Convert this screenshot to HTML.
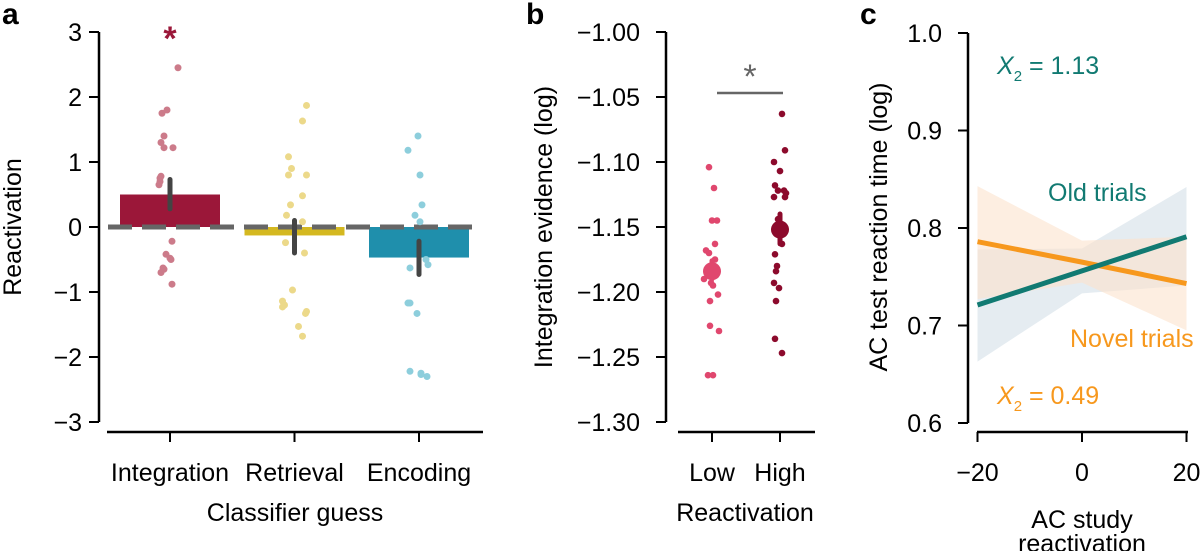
<!DOCTYPE html>
<html><head><meta charset="utf-8"><style>
html,body{margin:0;padding:0;background:#fff}
svg{display:block;font-family:"Liberation Sans",sans-serif}
</style></head><body>
<svg id="fig" width="1200" height="551" viewBox="0 0 1200 551"></svg>
<script>
// ---- Panel a data ----
const catsA=["Integration","Retrieval","Encoding"];
const meansA=[0.5,-0.13,-0.47];
const errLoA=[0.28,-0.4,-0.73];
const errHiA=[0.73,0.1,-0.22];
const ticksA=[3,2,1,0,-1,-2,-3];
const ptsA=[[2.45,1.8,1.75,1.4,1.3,1.22,1.22,0.78,0.75,0.7,0.65,-0.22,-0.42,-0.48,-0.5,-0.63,-0.65,-0.7,-0.88],
[1.87,1.63,1.08,0.9,0.8,0.8,0.48,0.34,0.18,0.08,-0.24,-0.4,-0.97,-1.14,-1.2,-1.23,-1.3,-1.33,-1.53,-1.68],
[1.4,1.18,0.8,0.34,0.18,0.08,-0.5,-0.58,-0.63,-1.17,-1.17,-1.33,-2.22,-2.27,-2.3,-2.25]];
const jitA=[[8,-3,-8,-6,-9,-6,3,-9,-10,-10,-11,2,-4,0,1,-7,-6,-9,2],
[12,8,-6,-3,-6,12,8,-4,-8,8,-9,10,-2,-12,-10,-12,12,11,4,8],
[-1,-11,1,3,-4,1,7,9,-9,-11,-9,-2,-9,2,8,2]];
// ---- Panel b data ----
const catsB=["Low","High"];
const meansB=[-1.184,-1.152];
const errLoB=[-1.19,-1.163];
const errHiB=[-1.176,-1.14];
const ticksB=[-1.00,-1.05,-1.10,-1.15,-1.20,-1.25,-1.30];
const ptsB=[[-1.104,-1.12,-1.145,-1.145,-1.163,-1.168,-1.17,-1.175,-1.19,-1.193,-1.195,-1.202,-1.207,-1.226,-1.23,-1.264,-1.264],
[-1.063,-1.091,-1.1,-1.107,-1.118,-1.122,-1.122,-1.124,-1.127,-1.127,-1.144,-1.163,-1.171,-1.18,-1.184,-1.193,-1.197,-1.207,-1.236,-1.247]];
const jitB=[[-3,2,0,5,3,-6,-3,3,-8,-1,1,6,-2,-2,7,-4,1],
[2,5,-6,0,-5,-2,4,6,-6,5,-2,2,-5,-3,-4,-6,-1,-4,-5,2]];
// ---- Panel c data ----
const xC=[-20,0,20];
const oldLine=[0.721,0.756,0.791];
const oldLo=[0.663,0.733,0.741];
const oldHi=[0.778,0.779,0.842];
const novLine=[0.786,0.765,0.743];
const novLo=[0.727,0.744,0.695];
const novHi=[0.843,0.787,0.791];
const ticksCy=[1.0,0.9,0.8,0.7,0.6];
const ticksCx=[-20,0,20];

const NS="http://www.w3.org/2000/svg";
const svg=document.getElementById('fig');
const FS=25;
function mk(tag,attrs,parent,text){const e=document.createElementNS(NS,tag);for(const k in attrs)e.setAttribute(k,attrs[k]);if(text!==undefined)e.textContent=text;(parent||svg).appendChild(e);return e;}
function grp(name){const g=mk('g',{});return g;}

// Panel a
const yA=v=>227-65*v;
const xA=i=>170+i*124.5;
const gA=grp('panel-a');
const la=mk('text',{x:2,y:24,'font-size':30,'font-weight':'bold'},gA,'a');

mk('line',{x1:99,y1:yA(3),x2:99,y2:yA(-3),stroke:'#000','stroke-width':2.5},gA);
ticksA.forEach(t=>{mk('line',{x1:89,x2:99,y1:yA(t),y2:yA(t),stroke:'#000','stroke-width':2},gA);
const tl=mk('text',{x:82,y:yA(t)+9,'font-size':FS,'text-anchor':'end'},gA,t<0?'\u2212'+(-t):String(t));
});
const ytA=mk('text',{transform:'translate(21,227) rotate(-90)','font-size':FS,'text-anchor':'middle'},gA,'Reactivation');

mk('line',{x1:107,x2:483,y1:432,y2:432,stroke:'#000','stroke-width':2.5},gA);
const barCol=['#9b1739','#d4b820','#1f8fac'],dotCol=['#cc7b8a','#ecd98a','#8dcedc'];
catsA.forEach((c,i)=>{
 const b=mk('rect',{x:xA(i)-50,width:100,y:Math.min(yA(0),yA(meansA[i])),height:Math.abs(yA(meansA[i])-yA(0)),fill:barCol[i]},gA);
 
 mk('line',{x1:xA(i),x2:xA(i),y1:432,y2:442,stroke:'#000','stroke-width':2},gA);
 const xl=mk('text',{x:xA(i),y:481,'font-size':FS,'text-anchor':'middle'},gA,c);
 
});
const zl=mk('line',{x1:108,x2:482,y1:yA(0),y2:yA(0),stroke:'#666','stroke-width':5,'stroke-dasharray':'24,10'},gA);

catsA.forEach((c,i)=>{
 ptsA[i].forEach((v,j)=>{const d=mk('circle',{cx:xA(i)+jitA[i][j],cy:yA(v),r:3.5,fill:dotCol[i]},gA);
 });
 const e=mk('line',{x1:xA(i),x2:xA(i),y1:yA(errLoA[i]),y2:yA(errHiA[i]),stroke:'#444','stroke-width':5,'stroke-linecap':'round'},gA);
 
});
const st=mk('text',{x:170,y:50,'font-size':34,'font-weight':'bold','text-anchor':'middle',fill:'#9b1739'},gA,'*');

const xtA=mk('text',{x:295,y:521,'font-size':FS,'text-anchor':'middle'},gA,'Classifier guess');


// Panel b
const yB=v=>32+(-1.0-v)*1300;
const xB=i=>712+i*68;
const gB=grp('panel-b');
const lb=mk('text',{x:526,y:24,'font-size':30,'font-weight':'bold'},gB,'b');

mk('line',{x1:666,y1:yB(-1.0),x2:666,y2:yB(-1.3),stroke:'#000','stroke-width':2.5},gB);
ticksB.forEach(t=>{mk('line',{x1:656,x2:666,y1:yB(t),y2:yB(t),stroke:'#000','stroke-width':2},gB);
const tl=mk('text',{x:640,y:yB(t)+9,'font-size':FS,'text-anchor':'end'},gB,'\u2212'+(-t).toFixed(2));
});
const ytB=mk('text',{transform:'translate(552,227) rotate(-90)','font-size':FS,'text-anchor':'middle'},gB,'Integration evidence (log)');

mk('line',{x1:678,x2:815,y1:432,y2:432,stroke:'#000','stroke-width':2.5},gB);
const colB=['#e0476e','#8c0a2c'];
catsB.forEach((c,i)=>{
 mk('line',{x1:xB(i),x2:xB(i),y1:432,y2:442,stroke:'#000','stroke-width':2},gB);
 const xl=mk('text',{x:xB(i),y:481,'font-size':FS,'text-anchor':'middle'},gB,c);
 
 ptsB[i].forEach((v,j)=>{const d=mk('circle',{cx:xB(i)+jitB[i][j],cy:yB(v),r:3.3,fill:colB[i]},gB);
 });
 mk('line',{x1:xB(i),x2:xB(i),y1:yB(errLoB[i]),y2:yB(errHiB[i]),stroke:colB[i],'stroke-width':5,'stroke-linecap':'round'},gB);
 const m=mk('circle',{cx:xB(i),cy:yB(meansB[i]),r:9,fill:colB[i]},gB);
 
});
mk('line',{x1:717,x2:783,y1:93,y2:93,stroke:'#666','stroke-width':2.5},gB);
const sb=mk('text',{x:750,y:88,'font-size':34,'text-anchor':'middle',fill:'#666'},gB,'*');

const xtB=mk('text',{x:745,y:521,'font-size':FS,'text-anchor':'middle'},gB,'Reactivation');


// Panel c
const yC=v=>33+(1.0-v)*975;
const xCf=v=>1082+v*(104.5/20);
const gC=grp('panel-c');
const lc=mk('text',{x:860,y:24,'font-size':30,'font-weight':'bold'},gC,'c');

mk('line',{x1:968,y1:yC(1.0),x2:968,y2:yC(0.6),stroke:'#000','stroke-width':2.5},gC);
ticksCy.forEach(t=>{mk('line',{x1:958,x2:968,y1:yC(t),y2:yC(t),stroke:'#000','stroke-width':2},gC);
const tl=mk('text',{x:942,y:yC(t)+9,'font-size':FS,'text-anchor':'end'},gC,t.toFixed(1));
});
const ytC=mk('text',{transform:'translate(887,227) rotate(-90)','font-size':FS,'text-anchor':'middle'},gC,'AC test reaction time (log)');

mk('line',{x1:977,x2:1188,y1:432,y2:432,stroke:'#000','stroke-width':2.5},gC);
ticksCx.forEach(t=>{mk('line',{x1:xCf(t),x2:xCf(t),y1:432,y2:442,stroke:'#000','stroke-width':2},gC);
const tl=mk('text',{x:xCf(t),y:481,'font-size':FS,'text-anchor':'middle'},gC,t<0?'\u2212'+(-t):String(t));
});
function band(lo,hi,fill,name){let d='M';xC.forEach((x,i)=>{d+=(i?'L':'')+xCf(x)+','+yC(hi[i]);});
for(let i=xC.length-1;i>=0;i--)d+='L'+xCf(xC[i])+','+yC(lo[i]);d+='Z';
const p=mk('path',{d:d,fill:fill,'fill-opacity':0.6},gC);}
function line(v,col,name){const p=mk('polyline',{points:xC.map((x,i)=>xCf(x)+','+yC(v[i])).join(' '),fill:'none',stroke:col,'stroke-width':5},gC);
}
band(oldLo,oldHi,'#d3dfe8','old-trials-ci');
band(novLo,novHi,'#fbe3cd','novel-trials-ci');
line(novLine,'#f7981d','novel-trials-line');
line(oldLine,'#117a72','old-trials-line');
const t1=mk('text',{x:997,y:74,'font-size':FS,fill:'#117a72'},gC);t1.innerHTML='<tspan font-style="italic">X</tspan><tspan font-size="15" dy="7">2</tspan><tspan dy="-7"> = 1.13</tspan>';

const t2=mk('text',{x:997,y:404,'font-size':FS,fill:'#f7981d'},gC);t2.innerHTML='<tspan font-style="italic">X</tspan><tspan font-size="15" dy="7">2</tspan><tspan dy="-7"> = 0.49</tspan>';

const l1=mk('text',{x:1048,y:201,'font-size':FS,fill:'#117a72'},gC,'Old trials');

const l2=mk('text',{x:1070,y:347,'font-size':FS,fill:'#f7981d'},gC,'Novel trials');

const xc1=mk('text',{x:1082,y:528,'font-size':FS,'text-anchor':'middle'},gC,'AC study');

const xc2=mk('text',{x:1082,y:552,'font-size':FS,'text-anchor':'middle'},gC,'reactivation');

</script>
</body></html>
